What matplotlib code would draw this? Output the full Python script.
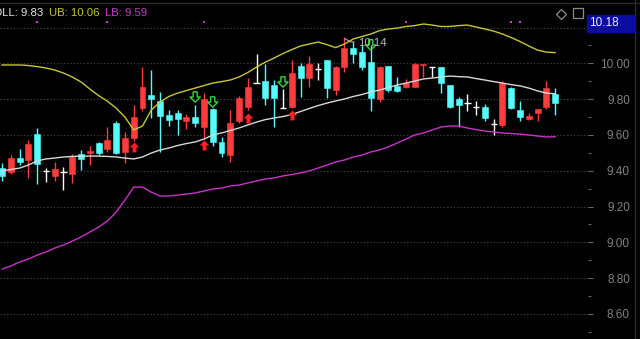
import numpy as np
import matplotlib.pyplot as plt
from matplotlib.path import Path
from matplotlib.patches import Rectangle
from matplotlib.lines import Line2D

plt.rcParams['font.family'] = ['Liberation Sans', 'DejaVu Sans']

# daily candles
opens = np.array([
    9.415, 9.393, 9.471, 9.460, 9.605, 9.399, 9.371, 9.393, 9.382, 9.494,
    9.499, 9.555, 9.521, 9.667, 9.505, 9.583, 9.751, 9.823, 9.790, 9.711,
    9.723, 9.678, 9.700, 9.644, 9.745, 9.561, 9.488, 9.678, 9.756, 9.890,
    9.901, 9.879, 9.751, 9.756, 9.985, 9.918, 9.969, 10.019, 9.851, 9.980,
    10.086, 10.063, 10.007, 9.801, 9.985, 9.874, 9.868, 9.868, 9.991, 9.980,
    9.980, 9.879, 9.801, 9.779, 9.756, 9.756, 9.661, 9.656, 9.862, 9.739,
    9.689, 9.723, 9.756, 9.829])
closes = np.array([
    9.371, 9.471, 9.449, 9.549, 9.438, 9.399, 9.410, 9.393, 9.477, 9.466,
    9.510, 9.499, 9.572, 9.499, 9.583, 9.700, 9.868, 9.801, 9.706, 9.684,
    9.689, 9.700, 9.667, 9.801, 9.561, 9.499, 9.667, 9.807, 9.868, 9.890,
    9.807, 9.807, 9.751, 9.946, 9.918, 9.996, 9.969, 9.862, 9.980, 10.086,
    10.052, 9.980, 9.807, 9.980, 9.851, 9.846, 9.890, 9.996, 9.996, 9.980,
    9.890, 9.756, 9.767, 9.779, 9.756, 9.695, 9.661, 9.890, 9.751, 9.700,
    9.706, 9.745, 9.862, 9.779])
highs = np.array([
    9.443, 9.488, 9.521, 9.572, 9.639, 9.415, 9.449, 9.421, 9.494, 9.516,
    9.538, 9.561, 9.644, 9.678, 9.617, 9.767, 9.980, 9.963, 9.840, 9.739,
    9.739, 9.717, 9.767, 9.834, 9.751, 9.589, 9.739, 9.818, 9.918, 10.052,
    9.996, 9.907, 9.857, 10.019, 10.002, 10.041, 10.002, 10.019, 9.985, 10.140,
    10.119, 10.103, 10.103, 9.985, 9.985, 9.924, 9.913, 10.002, 9.996, 9.982,
    9.980, 9.879, 9.812, 9.829, 9.790, 9.773, 9.689, 9.901, 9.868, 9.790,
    9.723, 9.745, 9.901, 9.862])
lows = np.array([
    9.343, 9.382, 9.432, 9.360, 9.326, 9.337, 9.343, 9.292, 9.332, 9.404,
    9.432, 9.488, 9.505, 9.494, 9.443, 9.566, 9.734, 9.695, 9.505, 9.650,
    9.600, 9.633, 9.644, 9.577, 9.538, 9.477, 9.449, 9.667, 9.739, 9.890,
    9.767, 9.644, 9.751, 9.751, 9.812, 9.868, 9.907, 9.807, 9.823, 9.952,
    10.002, 9.963, 9.734, 9.784, 9.840, 9.840, 9.862, 9.868, 9.924, 9.924,
    9.834, 9.751, 9.644, 9.734, 9.711, 9.678, 9.600, 9.644, 9.745, 9.678,
    9.684, 9.678, 9.745, 9.711])

# Bollinger bands
boll_mid = [
    9.399, 9.407, 9.415, 9.432, 9.455, 9.466, 9.471, 9.477, 9.480, 9.482,
    9.482, 9.482, 9.480, 9.477, 9.471, 9.466, 9.477, 9.499, 9.516, 9.527,
    9.541, 9.552, 9.561, 9.577, 9.600, 9.611, 9.625, 9.639, 9.656, 9.672,
    9.686, 9.695, 9.703, 9.714, 9.731, 9.748, 9.764, 9.778, 9.790, 9.801,
    9.815, 9.826, 9.840, 9.851, 9.865, 9.879, 9.890, 9.901, 9.913, 9.918,
    9.924, 9.929, 9.926, 9.924, 9.915, 9.907, 9.898, 9.890, 9.881, 9.874,
    9.862, 9.846, 9.834, 9.83]
boll_ub = [
    9.991, 9.991, 9.991, 9.988, 9.982, 9.974, 9.963, 9.946, 9.924, 9.896,
    9.857, 9.820, 9.789, 9.750, 9.700, 9.628, 9.650, 9.739, 9.784, 9.815,
    9.834, 9.848, 9.862, 9.876, 9.890, 9.898, 9.907, 9.924, 9.949, 9.980,
    10.007, 10.030, 10.055, 10.077, 10.097, 10.108, 10.119, 10.105, 10.088, 10.108,
    10.136, 10.150, 10.164, 10.183, 10.192, 10.197, 10.206, 10.211, 10.220, 10.214,
    10.206, 10.206, 10.211, 10.214, 10.203, 10.192, 10.180, 10.164, 10.144, 10.122,
    10.097, 10.074, 10.063, 10.06]
boll_lb = [
    8.851, 8.868, 8.890, 8.907, 8.929, 8.946, 8.968, 8.985, 9.007, 9.030,
    9.058, 9.085, 9.119, 9.169, 9.236, 9.309, 9.309, 9.281, 9.259, 9.259,
    9.264, 9.270, 9.276, 9.287, 9.298, 9.303, 9.315, 9.320, 9.332, 9.343,
    9.354, 9.360, 9.371, 9.379, 9.388, 9.399, 9.415, 9.432, 9.449, 9.460,
    9.477, 9.488, 9.505, 9.516, 9.533, 9.555, 9.577, 9.600, 9.611, 9.628,
    9.644, 9.650, 9.650, 9.639, 9.630, 9.622, 9.617, 9.611, 9.608, 9.605,
    9.600, 9.594, 9.589, 9.59]

# signals
buy_idx = [15, 23, 28, 33]
buy_lvl = [9.533, 9.544, 9.695, 9.711]
sell_idx = [22, 24, 32, 42]
sell_lvl = [9.812, 9.784, 9.896, 10.103]
dot_idx = [4, 12, 23, 46, 58, 59]
dot_lvl = 10.231

price_ticks = [8.60, 8.80, 9.00, 9.20, 9.40, 9.60, 9.80, 10.00, 10.20]
minor_ticks = [8.50, 8.70, 8.90, 9.10, 9.30, 9.50, 9.70, 9.90, 10.10]
last_price = 10.18
high_label = 10.14

RED = '#ff3c3c'
CYAN = '#54fcfc'
W, H = 640, 339

fig = plt.figure(figsize=(6.4, 3.39), dpi=100, facecolor='black')
ax = fig.add_axes([0, 0, 588 / W, 1])
ax.set_facecolor('black')
ax.set_xlim(-0.228, 66.74)
ax.set_ylim(10.354 - H / 179, 10.354)

x = np.arange(len(opens))
up = closes > opens
dn = closes < opens
flat = closes == opens
wick_cols = np.where(up, RED, np.where(dn, CYAN, '#ffffff'))

ax.vlines(x, lows, highs, colors=wick_cols, linewidth=1.0, zorder=2)
ax.bar(x[up], (closes - opens)[up], bottom=opens[up], width=0.68,
       color=RED, edgecolor=RED, linewidth=0.4, zorder=3)
ax.bar(x[dn], (opens - closes)[dn], bottom=closes[dn], width=0.68,
       color=CYAN, edgecolor=CYAN, linewidth=0.4, zorder=3)
ax.hlines(opens[flat], x[flat] - 0.36, x[flat] + 0.36, colors='#ffffff',
          linewidth=1.0, zorder=3)

ax.plot(x, boll_mid, color='#d8d8d8', lw=1.0, zorder=4)
ax.plot(x, boll_ub, color='#c8c832', lw=1.0, zorder=4)
ax.plot(x, boll_lb, color='#c832c8', lw=1.0, zorder=4)

# arrow markers
down_arrow = Path([(-0.2, 0.5), (0.2, 0.5), (0.2, 0.0), (0.5, 0.0), (0.0, -0.5),
                   (-0.5, 0.0), (-0.2, 0.0), (-0.2, 0.5)], closed=True)
up_arrow = Path([(-0.2, -0.5), (0.2, -0.5), (0.2, 0.0), (0.5, 0.0), (0.0, 0.5),
                 (-0.5, 0.0), (-0.2, 0.0), (-0.2, -0.5)], closed=True)
ax.scatter(sell_idx, sell_lvl, marker=down_arrow, s=55, facecolors='none',
           edgecolors='#3cd23c', linewidths=1.0, zorder=5)
ax.scatter(buy_idx, buy_lvl, marker=up_arrow, s=50, color='#ff2020',
           linewidths=0, zorder=5)
ax.scatter(dot_idx, [dot_lvl] * len(dot_idx), marker='s', s=2.5,
           color='#c83cc8', linewidths=0, zorder=5)

# highest price label
hi_i = int(np.argmax(highs))
ax.plot([hi_i, hi_i + 0.7, hi_i + 1.1], [high_label, high_label - 0.02, high_label - 0.02],
        color='#b0b0b0', lw=0.8, zorder=5)
ax.text(hi_i + 1.5, high_label - 0.025, f'{high_label:.2f}', color='#b4b4b4',
        fontsize=8.2, va='center', ha='left', zorder=5)

# axis styling (the 10.20 label sits under the price box)
ax.set_xticks([])
ax.yaxis.tick_right()
ax.set_yticks(price_ticks)
ax.set_yticklabels([f'{v:.2f}' if v < 10.1 else '' for v in price_ticks])
ax.set_yticks(minor_ticks, minor=True)
ax.tick_params(axis='y', which='major', length=3.6, width=0.8, color='#666666',
               labelcolor='#808080', labelsize=8.5, pad=26.6)
ax.tick_params(axis='y', which='minor', length=2.2, width=0.8, color='#666666')
for lab in ax.get_yticklabels():
    lab.set_ha('right')
ax.grid(axis='y', which='major', color='#484848', linestyle=(0, (1, 2)), linewidth=0.8)
ax.set_axisbelow(True)
for s in ax.spines.values():
    s.set_visible(False)

# header legend
ty = 1 - 13 / H
fig.text(43 / W, ty, f'BOLL: {boll_mid[-1]:.2f}', ha='right', va='center',
         color='#e6e6e6', fontsize=8.2)
fig.text(49 / W, ty, f'UB: {boll_ub[-1]:.2f}', ha='left', va='center',
         color='#c8c832', fontsize=8.2)
fig.text(105 / W, ty, f'LB: {boll_lb[-1]:.2f}', ha='left', va='center',
         color='#c83cc8', fontsize=8.2)

# price box and frame bits
fig.patches.append(Rectangle((587 / W, 1 - 32 / H), 48 / W, 17 / H,
                             transform=fig.transFigure, color='#0c0ca0', zorder=5))
fig.text(589 / W, 1 - 23.5 / H, f'{last_price:.2f}', color='#f0f0f0',
         fontsize=8.5, va='center', ha='left', zorder=6)
fig.add_artist(Line2D([0, 1], [1 - 3 / H] * 2, color='#2c2c2c', lw=1.0))
fig.add_artist(Line2D([635 / W] * 2, [0, 1], color='#2c2c2c', lw=1.0))
fig.add_artist(Line2D([561 / W], [1 - 14 / H], marker='D', markersize=5.5,
                      mfc='none', mec='#8c8c8c', mew=0.9))
fig.add_artist(Line2D([578 / W], [1 - 13 / H], marker='s', markersize=6.5,
                      mfc='none', mec='#8c8c8c', mew=0.9))

fig.savefig('out.png', dpi=100, facecolor='black')
